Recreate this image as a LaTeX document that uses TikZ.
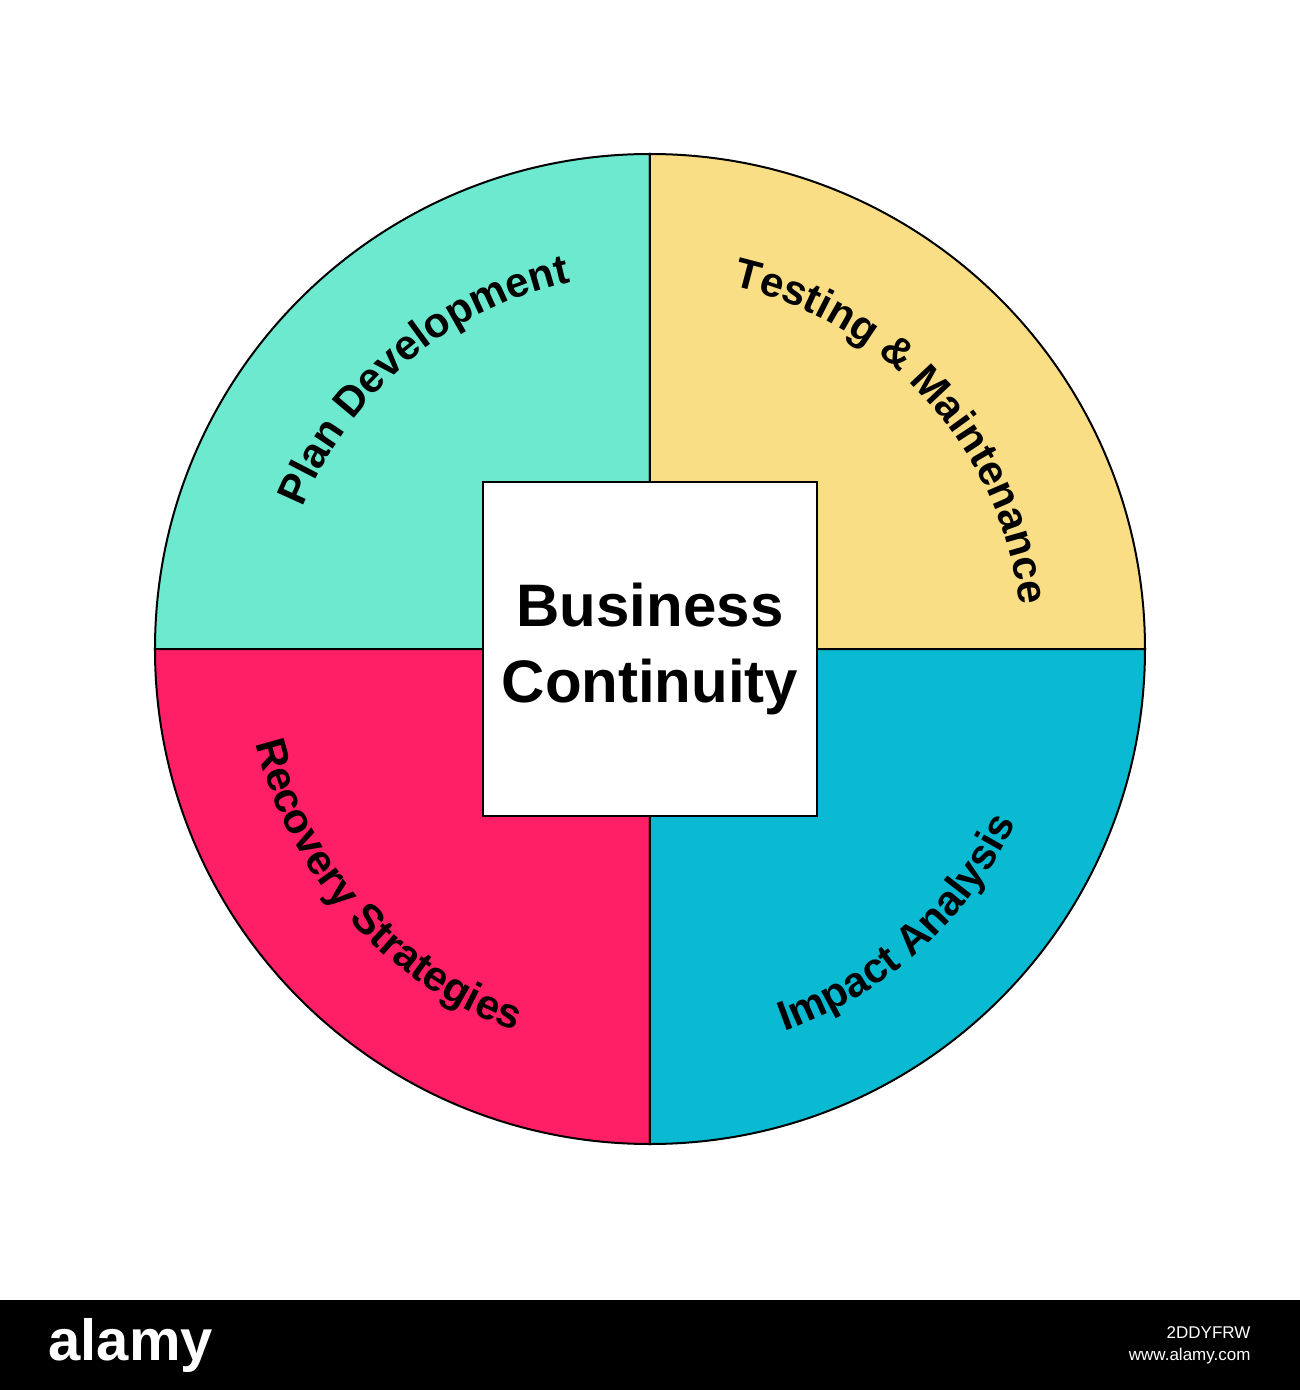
\documentclass[tikz,border=0pt]{standalone}
\usepackage{fontspec}
\setmainfont{Liberation Sans}
\usetikzlibrary{decorations.text}
\definecolor{cteal}{HTML}{6CE9CF}
\definecolor{cyel}{HTML}{F9DE85}
\definecolor{cpink}{HTML}{FF1F66}
\definecolor{cblue}{HTML}{0ABAD3}
\tikzset{quad/.style={draw=black,line width=2pt},
 arctext/.style={decorate,decoration={text along path,text align=center,
 text={|\bfseries\fontsize{42}{42}\selectfont|#1}}}}
\begin{document}
\begin{tikzpicture}[x=1pt,y=1pt]
\useasboundingbox (-650,649) rectangle (650,-741);
\fill[white] (-650,649) rectangle (650,-741);
\def\R{495}
\filldraw[quad,fill=cteal] (0,0) -- (180:\R) arc[start angle=180,end angle=90,radius=\R] -- cycle;
\filldraw[quad,fill=cyel] (0,0) -- (90:\R) arc[start angle=90,end angle=0,radius=\R] -- cycle;
\filldraw[quad,fill=cpink] (0,0) -- (180:\R) arc[start angle=180,end angle=270,radius=\R] -- cycle;
\filldraw[quad,fill=cblue] (0,0) -- (270:\R) arc[start angle=270,end angle=360,radius=\R] -- cycle;
\node[quad,fill=white,minimum width=334pt,minimum height=334pt,align=center,
 font=\bfseries\fontsize{60}{76}\selectfont] (center) at (0,0) {Business\\Continuity};
\path[arctext={Plan Development}] (175:375) arc[start angle=175,end angle=85,radius=375];
\path[arctext={Testing {\&} Maintenance}] (92:372) arc[start angle=92,end angle=-8,radius=372];
\path[arctext={Recovery Strategies}] (176:405) arc[start angle=176,end angle=268,radius=405];
\path[arctext={Impact Analysis}] (268:405) arc[start angle=268,end angle=356,radius=405];
\fill[black] (-650,-651) rectangle (650,-741);
\node[text=white,font=\bfseries\fontsize{58}{58}\selectfont,anchor=west] (logo) at (-605,-696) {alamy};
\node[text=white,font=\fontsize{17}{22}\selectfont,anchor=east,align=right] (idt) at (604,-696) {2DDYFRW\\www.alamy.com};
\end{tikzpicture}
\end{document}
